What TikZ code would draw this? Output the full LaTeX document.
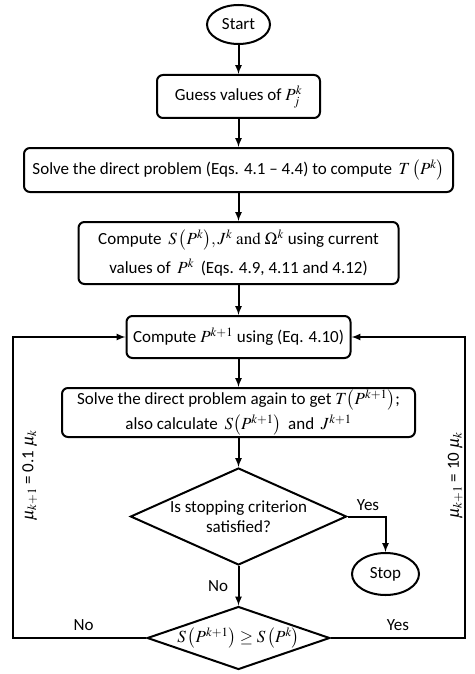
\documentclass[tikz,border=0pt]{standalone}
\usepackage{mathptmx}
\usepackage[no-math]{fontspec}
\setmainfont{Carlito}
\usetikzlibrary{arrows.meta, shapes.geometric}

\begin{document}
\begin{tikzpicture}[x=1pt, y=-1pt, line width=2pt, font=\fontsize{17}{22}\selectfont,
    box/.style={draw, rounded corners=6pt, align=center, inner sep=0pt},
    term/.style={draw, ellipse, inner sep=0pt},
    decision/.style={draw, diamond, align=center, inner sep=0pt},
    flow/.style={-latex}]
  \useasboundingbox (0,0) rectangle (474,674);
  % Main column
  \node[term, minimum width=63pt, minimum height=39pt] (start) at (238.5,24.5) {Start};
  \node[box, minimum width=163pt, minimum height=43pt] (guess) at (238.5,96.5) {Guess values of $P_j^k$};
  \node[box, minimum width=429pt, minimum height=44pt] (direct) at (238.5,170) {Solve the direct problem (Eqs. 4.1 -- 4.4) to compute \,$T\left(P^k\right)$};
  \node[box, minimum width=320pt, minimum height=62pt] (grad) at (238.5,253) {Compute \,$S\left(P^k\right)\!, J^k\ \mathrm{and}\ \Omega^k$ using current\\[7pt] values of \,$P^k$\, (Eqs. 4.9, 4.11 and 4.12)};
  \node[box, minimum width=224pt, minimum height=42pt] (update) at (238.5,337) {Compute $P^{k+1}$ using (Eq. 4.10)};
  \node[box, minimum width=353pt, minimum height=49pt] (again) at (238.5,412.5) {Solve the direct problem again to get $T\bigl(P^{k+1}\bigr)$;\\[3pt] also calculate \,$S\bigl(P^{k+1}\bigr)$\, and \,$J^{k+1}$};
  % Decisions
  \node[decision, shape aspect=2.2, minimum width=216pt, minimum height=97pt, font=\fontsize{17}{20}\selectfont] (stopq) at (238.5,516.5) {Is stopping criterion\\ satisfied?};
  \node[term, minimum width=67pt, minimum height=42pt] (stop) at (385.5,574) {Stop};
  \node[decision, shape aspect=2.9, minimum width=178pt, minimum height=62pt] (decide) at (238.5,638) {$S\left(P^{k+1}\right)\geq S\left(P^k\right)$};
  % Corners of the loops
  \coordinate (lc) at (13,638);
  \coordinate (rc) at (465,638);
  % Arrows
  \draw[flow] (start) -- (guess);
  \draw[flow] (guess) -- (direct);
  \draw[flow] (direct) -- (grad);
  \draw[flow] (grad) -- (update);
  \draw[flow] (update) -- (again);
  \draw[flow] (again) -- (stopq);
  \draw[flow] (stopq.east) -| node[pos=0.27, above=2pt]{Yes} (stop.north);
  \draw[flow] (stopq) -- node[left=6pt]{No} (decide);
  \draw[flow] (decide.west) -- node[pos=0.47, above=3pt]{No} (lc) |- node[pos=0.27, rotate=90, anchor=north, yshift=-5pt]{$\mu_{k+1}$ = 0.1 $\mu_k$} (update.west);
  \draw[flow] (decide.east) -- node[pos=0.5, above=3pt]{Yes} (rc) |- node[pos=0.27, rotate=90, anchor=south, yshift=-2pt]{$\mu_{k+1}$ = 10 $\mu_k$} (update.east);
\end{tikzpicture}
\end{document}
